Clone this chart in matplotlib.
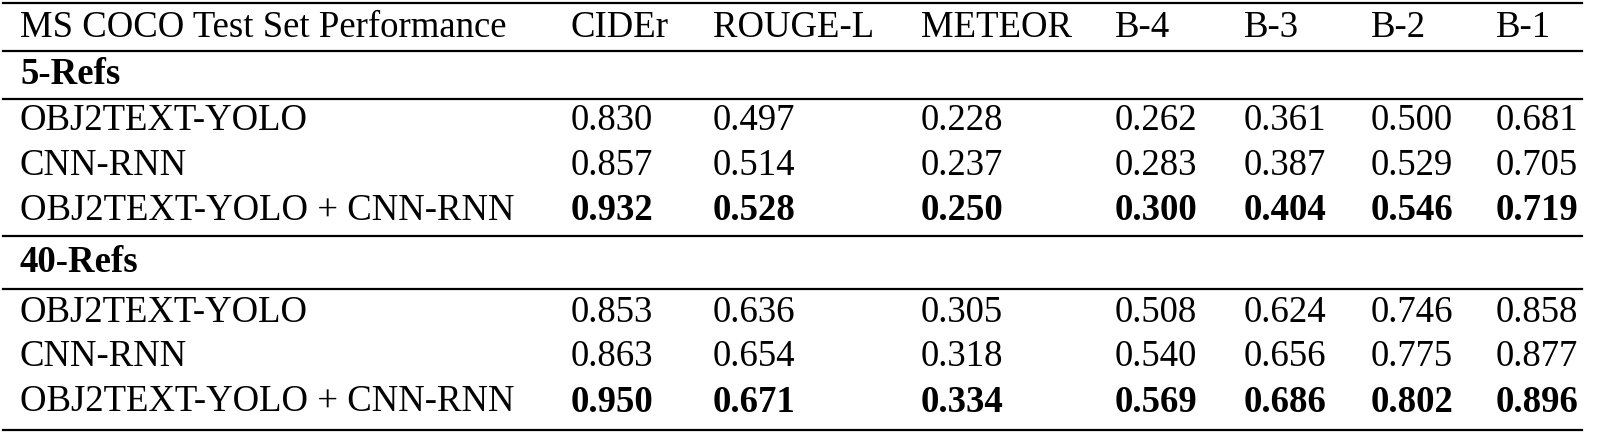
import matplotlib
matplotlib.use("Agg")
import matplotlib.pyplot as plt

columns = ["CIDEr", "ROUGE-L", "METEOR", "B-4", "B-3", "B-2", "B-1"]
title = "MS COCO Test Set Performance"
models = ["OBJ2TEXT-YOLO", "CNN-RNN", "OBJ2TEXT-YOLO + CNN-RNN"]
refs5 = [
    ["0.830", "0.497", "0.228", "0.262", "0.361", "0.500", "0.681"],
    ["0.857", "0.514", "0.237", "0.283", "0.387", "0.529", "0.705"],
    ["0.932", "0.528", "0.250", "0.300", "0.404", "0.546", "0.719"],
]
refs40 = [
    ["0.853", "0.636", "0.305", "0.508", "0.624", "0.746", "0.858"],
    ["0.863", "0.654", "0.318", "0.540", "0.656", "0.775", "0.877"],
    ["0.950", "0.671", "0.334", "0.569", "0.686", "0.802", "0.896"],
]
groups = [("5-Refs", refs5), ("40-Refs", refs40)]

W, H = 1606, 434
fig = plt.figure(figsize=(W / 100, H / 100), dpi=100)
ax = fig.add_axes([0, 0, 1, 1])
ax.set_xlim(0, W)
ax.set_ylim(H, 0)
ax.axis("off")

font = "Liberation Serif"
fs = 26.5
colx = [571, 713, 921, 1115, 1244, 1371, 1496]
x0, x1 = 3, 1582

def hline(y, lw=1.6):
    ax.plot([x0, x1], [y, y], color="black", lw=lw)

hline(3)
ax.text(20, 28, title, fontsize=fs, family=font, va="center")
for c, x in zip(columns, colx):
    ax.text(x, 28, c, fontsize=fs, family=font, va="center")
hline(51)

group_y = [(75, 99, [121, 166, 211], 236), (263, 289, [313, 357, 402], 430)]
for (name, data), (gy, ly, rys, endy) in zip(groups, group_y):
    ax.text(20, gy, name, fontsize=fs, family=font, va="center", weight="bold")
    hline(ly)
    for i, (m, row, ry) in enumerate(zip(models, data, rys)):
        ax.text(20, ry, m, fontsize=fs, family=font, va="center")
        w = "bold" if i == 2 else "normal"
        for v, x in zip(row, colx):
            ax.text(x, ry, v, fontsize=fs, family=font, va="center", weight=w)
    hline(endy)

fig.savefig("out.png", dpi=100)
